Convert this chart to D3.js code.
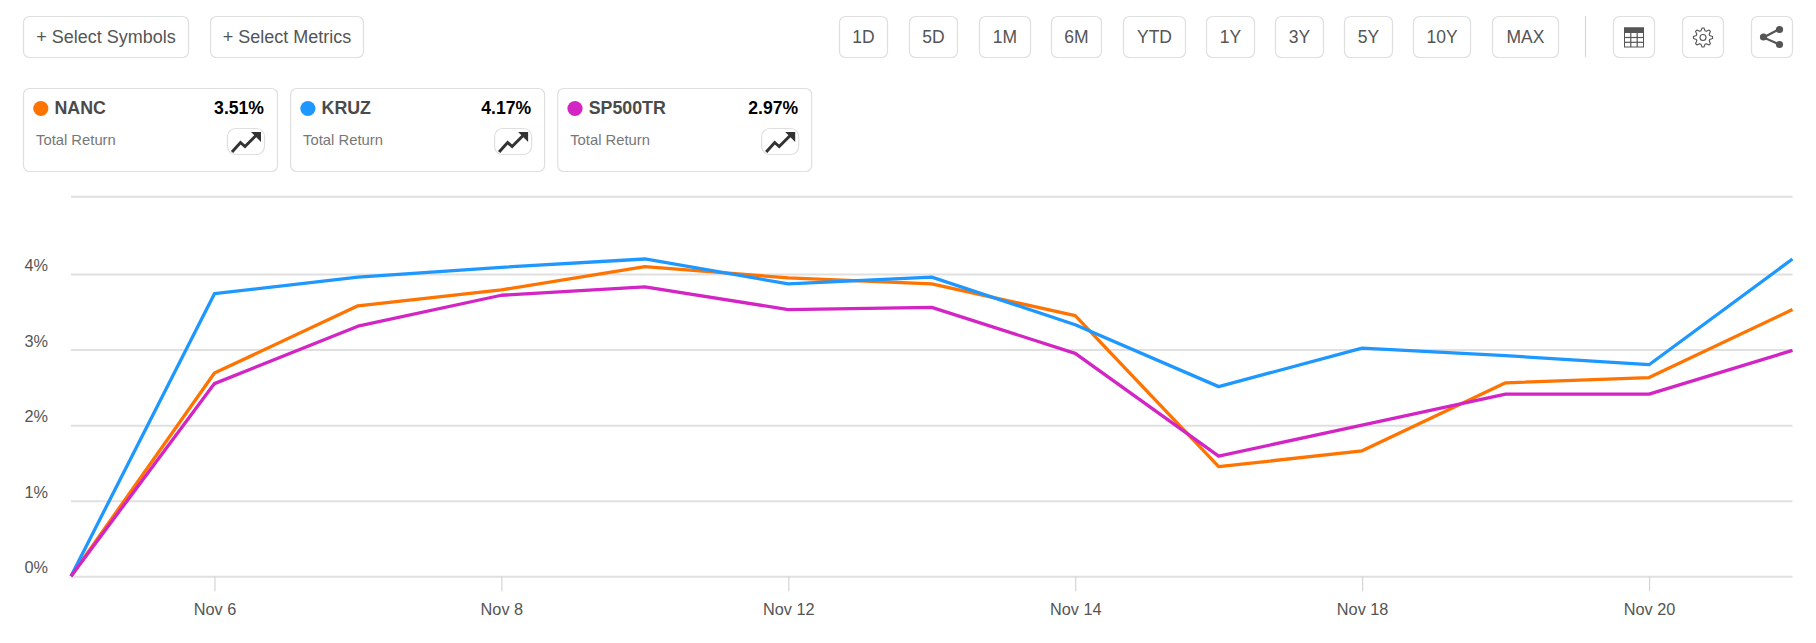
<!DOCTYPE html>
<html>
<head>
<meta charset="utf-8">
<script src="https://cdn.jsdelivr.net/npm/d3@7"></script>
<style>
  html, body { margin: 0; padding: 0; background: #fff; }
  svg { display: block; font-family: "Liberation Sans", Arial, sans-serif; }
  .btn rect, .card rect, .mini { fill: #fff; stroke: #dfdfdf; stroke-width: 1.2; }
  .grid .domain { display: none; }
  .grid line { stroke: #e0e0e0; stroke-width: 2; }
  .grid text, .xaxis text { fill: #555; font-size: 16.3px; }
  .xaxis .domain { display: none; }
  .xaxis line { stroke: #d4d4d4; stroke-width: 1.2; }
</style>
</head>
<body>
<div id="chart"></div>
<script>
const days = ['Nov 5', 'Nov 6', 'Nov 7', 'Nov 8', 'Nov 11', 'Nov 12', 'Nov 13', 'Nov 14', 'Nov 15', 'Nov 18', 'Nov 19', 'Nov 20', 'Nov 21'];
const nanc = [0, 2.69, 3.58, 3.79, 4.10, 3.95, 3.87, 3.45, 1.45, 1.66, 2.56, 2.63, 3.53];
const kruz = [0, 3.74, 3.96, 4.09, 4.20, 3.87, 3.96, 3.33, 2.51, 3.02, 2.92, 2.80, 4.20];
const sp500 = [0, 2.55, 3.31, 3.72, 3.83, 3.53, 3.56, 2.95, 1.59, 2.00, 2.41, 2.41, 2.99];
const tickDays = ['Nov 6', 'Nov 8', 'Nov 12', 'Nov 14', 'Nov 18', 'Nov 20'];
const yTicks = [0, 1, 2, 3, 4];
const yTop = 5.03;

const symbols = ['NANC', 'KRUZ', 'SP500TR'];
const symbolReturns = ['3.51%', '4.17%', '2.97%'];
const symbolColors = ['#ff7300', '#1e98ff', '#d324c4'];
const rangeLabels = ['1D', '5D', '1M', '6M', 'YTD', '1Y', '3Y', '5Y', '10Y', 'MAX'];
const rangeX = [839, 909, 979, 1051, 1123, 1206, 1275, 1344, 1413, 1492];
const rangeW = [48, 48, 51, 50, 62, 48, 48, 48, 57, 66];

const svg = d3.select('#chart').append('svg').attr('width', 1816).attr('height', 643);

// top buttons
function button(x, w, label) {
    const g = svg.append('g').attr('class', 'btn').attr('transform', `translate(${x},16)`);
    g.append('rect').attr('x', 0.5).attr('y', 0.5).attr('width', w).attr('height', 41).attr('rx', 6);
    if (label) {
        g.append('text').attr('x', w / 2 + 0.5).attr('y', 27).attr('text-anchor', 'middle')
            .attr('font-size', label[0] === '+' ? 18 : 17.5).attr('fill', '#555').text(label);
    }
    return g;
}
button(23, 165, '+ Select Symbols');
button(210, 153, '+ Select Metrics');
rangeLabels.forEach((d, i) => button(rangeX[i], rangeW[i], d));

svg.append('line').attr('x1', 1585.5).attr('x2', 1585.5).attr('y1', 16).attr('y2', 57)
    .attr('stroke', '#d8d8d8').attr('stroke-width', 1.2);

// table icon
const tbl = button(1613, 41, null);
tbl.append('rect').attr('x', 11.5).attr('y', 12).attr('width', 19).attr('height', 19)
    .style('fill', '#fff').style('stroke', '#555').style('stroke-width', 1);
tbl.append('rect').attr('x', 11).attr('y', 11.5).attr('width', 20).attr('height', 5.5)
    .style('fill', '#555').style('stroke', 'none');
[[17.8, 17, 17.8, 31], [24.2, 17, 24.2, 31], [11.5, 21.5, 30.5, 21.5], [11.5, 26.3, 30.5, 26.3]].forEach(l => {
    tbl.append('line').attr('x1', l[0]).attr('y1', l[1]).attr('x2', l[2]).attr('y2', l[3])
        .attr('stroke', '#555').attr('stroke-width', 1.2);
});

// gear icon
const gear = button(1682, 41, null);
const gearPts = d3.range(32).map(i => {
    const a = (i - 0.5) * Math.PI / 16 - Math.PI / 2;
    const r = (i % 4 < 2) ? 9.6 : 7;
    return [21 + r * Math.cos(a), 21.5 + r * Math.sin(a)];
});
gear.append('path').attr('d', d3.line().curve(d3.curveLinearClosed)(gearPts))
    .attr('fill', 'none').attr('stroke', '#555').attr('stroke-width', 1.1).attr('stroke-linejoin', 'round');
gear.append('circle').attr('cx', 21).attr('cy', 21.5).attr('r', 3)
    .attr('fill', 'none').attr('stroke', '#555').attr('stroke-width', 1.1);

// share icon
const share = button(1751, 41, null);
share.append('path').attr('d', 'M28.5 13 L12.5 21.5 L28.5 28.5').attr('fill', 'none')
    .attr('stroke', '#555').attr('stroke-width', 2.2);
[[28.5, 13.5], [12.5, 21], [28.5, 28.5]].forEach(p => {
    share.append('circle').attr('cx', p[0]).attr('cy', p[1]).attr('r', 3.6).attr('fill', '#555');
});

// symbol cards
symbols.forEach((s, i) => {
    const g = svg.append('g').attr('class', 'card').attr('transform', `translate(${23 + i * 267.1},88)`);
    g.append('rect').attr('x', 0.5).attr('y', 0.5).attr('width', 254).attr('height', 83).attr('rx', 6);
    g.append('circle').attr('cx', 17.8).attr('cy', 20.5).attr('r', 7.6).attr('fill', symbolColors[i]);
    g.append('text').attr('x', 31.5).attr('y', 25.5).attr('font-size', 17.8).attr('font-weight', 700)
        .attr('fill', '#4a4a4a').text(s);
    g.append('text').attr('x', 241).attr('y', 26).attr('text-anchor', 'end').attr('font-size', 17.6)
        .attr('font-weight', 700).attr('fill', '#000').text(symbolReturns[i]);
    g.append('text').attr('x', 13).attr('y', 57).attr('font-size', 14.8).attr('fill', '#777').text('Total Return');
    g.append('rect').attr('class', 'mini').attr('x', 204.5).attr('y', 40.5).attr('width', 37).attr('height', 26).attr('rx', 8);
    g.append('path').attr('d', 'M209 64 L217.5 54.5 L222 58.5 L234 46.5').attr('fill', 'none')
        .attr('stroke', '#333').attr('stroke-width', 3);
    g.append('path').attr('d', 'M228 44 L238 44 L238 54 Z').attr('fill', '#333');
});

// chart
const x = d3.scalePoint().domain(days).range([71, 1792.5]);
const y = d3.scaleLinear().domain([0, yTop]).range([576.2, 196.3]);

svg.append('g').attr('class', 'grid').attr('transform', 'translate(71,0)')
    .call(d3.axisLeft(y).tickValues(yTicks.concat([yTop])).tickSize(-1721.5)
        .tickFormat(d => yTicks.includes(d) ? d + '%' : ''))
    .call(g => g.selectAll('text').attr('x', -23).attr('dy', '-0.21em').attr('text-anchor', 'end'));

svg.append('g').attr('class', 'xaxis').attr('transform', 'translate(0,576.2)')
    .call(d3.axisBottom(x).tickValues(tickDays).tickSize(15).tickPadding(12))
    .call(g => g.selectAll('text').attr('dy', '0.71em'));

const line = d3.line().x((d, i) => x(days[i])).y(d => y(d));
[nanc, kruz, sp500].forEach((vals, i) => {
    svg.append('path').datum(vals).attr('d', line)
        .attr('fill', 'none').attr('stroke', symbolColors[i]).attr('stroke-width', 3.3).attr('stroke-linejoin', 'round');
});
</script>
</body>
</html>
